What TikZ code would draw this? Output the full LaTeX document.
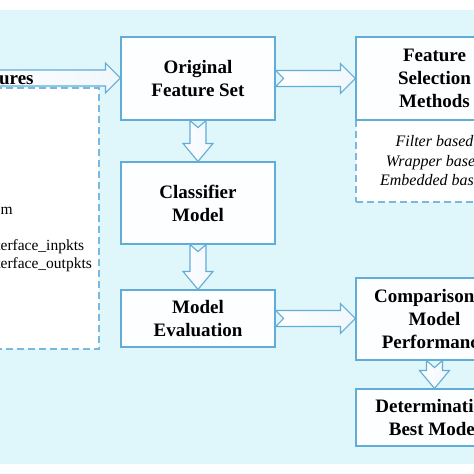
\documentclass[tikz,border=0pt]{standalone}
\usepackage{fontspec}
\setmainfont{Liberation Serif}
\usepackage{tikz}
\usetikzlibrary{calc}
\definecolor{bgcyan}{HTML}{DFF7FB}
\definecolor{lineblue}{HTML}{62ACD8}
\definecolor{boxfill}{HTML}{FCFEFF}

\newcommand{\harrow}[2]{%
  \draw[fat] let \p1=(#1), \p2=(#2) in
    (\x1,\y1+8pt) -- (\x2-15pt,\y1+8pt) -- (\x2-15pt,\y1+15pt) -- (\x2,\y1)
    -- (\x2-15pt,\y1-15pt) -- (\x2-15pt,\y1-8pt) -- (\x1,\y1-8pt) -- (\x1+8pt,\y1) -- cycle;}
\newcommand{\varrow}[2]{%
  \draw[fat] let \p1=(#1), \p2=(#2) in
    (\x1-8pt,\y1) -- (\x1-8pt,\y2+18pt) -- (\x1-15pt,\y2+18pt) -- (\x1,\y2)
    -- (\x1+15pt,\y2+18pt) -- (\x1+8pt,\y2+18pt) -- (\x1+8pt,\y1) -- (\x1,\y1-7pt) -- cycle;}

\begin{document}
\begin{tikzpicture}[
    x=1pt, y=-1pt,
    thick,
    box/.style = {draw=lineblue, fill=boxfill, line width=1.1pt, inner sep=0pt, align=center,
                  font=\fontsize{19}{23}\selectfont\bfseries},
    dashbox/.style = {draw=lineblue!85, fill=white, dash pattern=on 7pt off 4pt, line width=1.1pt, inner sep=0pt,
                      align=center, font=\fontsize{16}{19.5}\selectfont\itshape},
    fat/.style = {draw=lineblue, line width=1.1pt, left color=white, right color=lineblue!10},
    listtext/.style = {font=\fontsize{15.5}{18}\selectfont, inner sep=0pt}
    ]

    \useasboundingbox (0,0) rectangle (474,474);
    \fill[bgcyan] (0,10) rectangle (474,464);

    \node[dashbox, minimum width=159pt, minimum height=261pt] (featlist) at (19.5,218.5) {};
    \node[listtext, anchor=east] (itemm) at (13,211) {m};
    \node[listtext, anchor=west] (inpk) at (-17,247) {Interface\_inpkts};
    \node[listtext, anchor=west] (outpk) at (-17,265) {Interface\_outpkts};

    \node[box, minimum width=154pt, minimum height=83pt] (orig) at (198,78.5) {Original\\Feature Set};
    \node[box, minimum width=154pt, minimum height=82pt] (clf) at (198,203) {Classifier\\Model};
    \node[box, minimum width=154pt, minimum height=57pt] (eval) at (198,318.5) {Model\\Evaluation};

    \node[dashbox, minimum width=157pt, minimum height=82pt] (fsmlist) at (434.5,161)
        {Filter based\\Wrapper based\\Embedded based};
    \node[box, minimum width=157pt, minimum height=83pt] (fsm) at (434.5,78.5) {Feature\\Selection\\Methods};
    \node[box, minimum width=157pt, minimum height=82pt] (cmp) at (434.5,319) {Comparison of\\Model\\Performance};
    \node[box, minimum width=157pt, minimum height=57pt] (det) at (434.5,417.5) {Determination\\Best Model};

    \coordinate (fstart) at (-20,78);
    \harrow{fstart}{orig.west}
    \node[font=\fontsize{19}{20}\selectfont\bfseries, anchor=east, inner sep=0pt] (feat) at (34,78) {Features};

    \harrow{orig.east}{fsm.west}
    \harrow{eval.east}{cmp.west}
    \varrow{orig.south}{clf.north}
    \varrow{clf.south}{eval.north}
    \varrow{cmp.south}{det.north}
\end{tikzpicture}
\end{document}
